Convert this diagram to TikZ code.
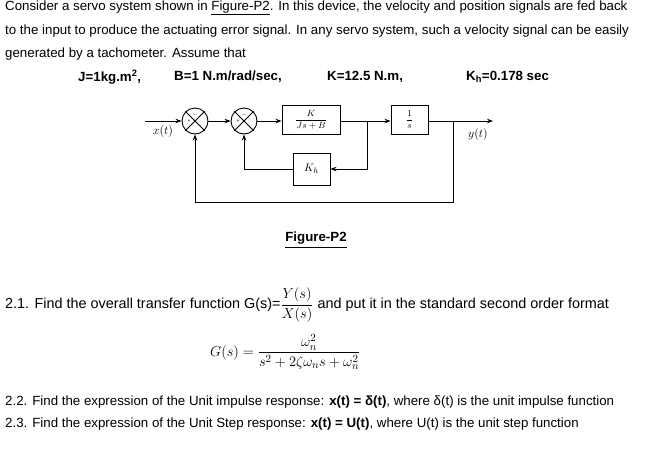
\documentclass[tikz,border=0pt]{standalone}
\usepackage{fontspec}
\setmainfont{Liberation Sans}
\usepackage{amsmath}
\usetikzlibrary{arrows.meta}
\begin{document}
\begin{tikzpicture}[x=1pt,y=-1pt,
  txt/.style={anchor=west,inner sep=0pt,font=\fontsize{13.3}{15}\selectfont},
  btxt/.style={anchor=west,inner sep=0pt,font=\bfseries\fontsize{13.3}{15}\selectfont},
  blk/.style={draw,line width=0.9pt,inner sep=0pt,font=\fontsize{9}{10}\selectfont},
  sum/.style={draw,circle,line width=0.9pt,minimum size=26pt,inner sep=0pt},
  sig/.style={line width=1pt,-{Stealth[length=6pt]}},
  wire/.style={line width=1pt}]
\useasboundingbox (0,0) rectangle (655,451);
\node[txt] (l1) at (5,8) {Consider a servo system shown in \underline{Figure-P2}. In this device, the velocity and position signals are fed back};
\node[txt] (l2) at (5,31) {to the input to produce the actuating error signal. In any servo system, such a velocity signal can be easily};
\node[txt] (l3) at (5,54) {generated by a tachometer. Assume that};
\node[btxt] (p1) at (78,77) {J=1kg.m$^{\mathbf 2}$,};
\node[btxt] (p2) at (174,77) {B=1 N.m/rad/sec,};
\node[btxt] (p3) at (327,77) {K=12.5 N.m,};
\node[btxt] (p4) at (466,77) {K$_{\mathbf h}$=0.178 sec};
% diagram
\coordinate (in) at (145,121);
\node[sum] (s1) at (195,121) {};
\node[sum] (s2) at (244,121) {};
\foreach \s in {s1,s2}{\draw[line width=0.8pt] (\s.north west)--(\s.south east) (\s.north east)--(\s.south west);}
\node[font=\tiny] at ([xshift=-6pt]s1.center) {+};
\node[font=\tiny] at ([yshift=6pt]s1.center) {$-$};
\node[font=\tiny] at ([xshift=-6pt]s2.center) {+};
\node[font=\tiny] at ([yshift=6pt]s2.center) {$-$};
\node[blk,minimum width=58pt,minimum height=29pt] (g1) at (311,119.5) {$\dfrac{K}{Js+B}$};
\node[blk,minimum width=37pt,minimum height=29pt] (g2) at (409.5,119.5) {$\dfrac{1}{s}$};
\node[blk,minimum width=37pt,minimum height=32pt,font=\fontsize{11}{12}\selectfont] (kh) at (311.5,169) {$K_h$};
\coordinate (out) at (493,121);
\coordinate (b1) at (367,121);
\coordinate (b2) at (453,121);
\draw[sig] (in) -- (s1);
\draw[sig] (s1) -- (s2);
\draw[sig] (s2) -- (g1.west|-s2);
\draw[sig] (g1.east|-s2) -- (g2.west|-s2);
\draw[sig] (g2.east|-s2) -- (out);
\draw[sig] (b1) |- (kh.east);
\draw[sig] (kh.west) -| (s2.south);
\draw[sig] (b2) |- (195,202) -- (s1.south);
\node[font=\fontsize{13}{14}\selectfont] (xt) at (163,131) {$x(t)$};
\node[font=\fontsize{13}{14}\selectfont] (yt) at (478,134) {$y(t)$};
\node[font=\bfseries\fontsize{13.3}{15}\selectfont] (fig) at (316,240) {\underline{Figure-P2}};
\node[anchor=west,inner sep=0pt,font=\fontsize{14.4}{16}\selectfont] (q1) at (5,305) {2.1. Find the overall transfer function G(s)=$\dfrac{Y(s)}{X(s)}$ and put it in the standard second order format};
\node[anchor=west,inner sep=0pt,font=\fontsize{15}{17}\selectfont] (gs) at (210,352) {$G(s)=\dfrac{\omega_n^2}{s^2+2\zeta\omega_n s+\omega_n^2}$};
\node[txt] (q2) at (5,402) {2.2. Find the expression of the Unit impulse response: \textbf{x(t) = δ(t)}, where δ(t) is the unit impulse function};
\node[txt] (q3) at (5,424) {2.3. Find the expression of the Unit Step response: \textbf{x(t) = U(t)}, where U(t) is the unit step function};
\end{tikzpicture}
\end{document}
